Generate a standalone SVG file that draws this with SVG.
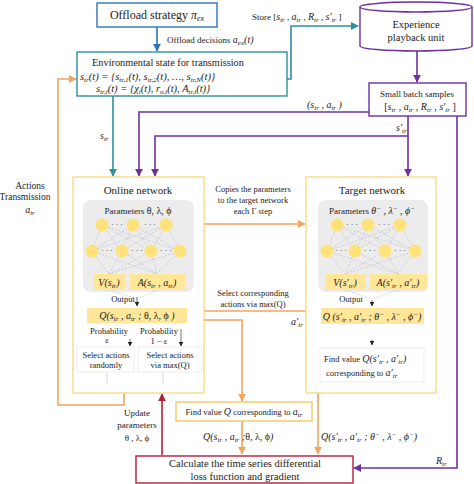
<svg xmlns="http://www.w3.org/2000/svg" width="474" height="484" viewBox="0 0 474 484" font-family="'Liberation Serif', 'Times New Roman', serif">
<style>
text{font-family:'Liberation Serif','Times New Roman',serif;fill:#222;}
.s{font-size:9px;}
.m{font-style:italic;}
.c{text-anchor:middle;}
.blue{fill:none;stroke:#2e75b6;stroke-width:1.6;}
.teal{fill:none;stroke:#2f8ea0;stroke-width:1.6;}
.pur{fill:none;stroke:#7030a0;stroke-width:1.6;}
.org{fill:none;stroke:#f4a460;stroke-width:1.6;}
.red{fill:none;stroke:#b3203a;stroke-width:1.6;}
.ybox{fill:#fff;stroke:#f9dc84;stroke-width:1.4;}
.yfill{fill:#ffe699;}
.gray{fill:#ececec;}
.node{fill:#ffe27a;}
.dash{stroke:#b8b8c8;stroke-width:0.6;stroke-dasharray:2 1.5;fill:none;}
.thin{stroke:#555;stroke-width:0.8;fill:none;}
.faint{fill:#fff;stroke:#e8e8e8;stroke-width:0.8;}
</style>
<defs>
<marker id="ab" viewBox="0 0 10 10" refX="9" refY="5" markerWidth="5" markerHeight="5" orient="auto-start-reverse"><path d="M0,0 L10,5 L0,10 z" fill="#2e75b6"/></marker>
<marker id="at" viewBox="0 0 10 10" refX="9" refY="5" markerWidth="5" markerHeight="5" orient="auto-start-reverse"><path d="M0,0 L10,5 L0,10 z" fill="#2f8ea0"/></marker>
<marker id="ap" viewBox="0 0 10 10" refX="9" refY="5" markerWidth="5" markerHeight="5" orient="auto-start-reverse"><path d="M0,0 L10,5 L0,10 z" fill="#7030a0"/></marker>
<marker id="ao" viewBox="0 0 10 10" refX="9" refY="5" markerWidth="5" markerHeight="5" orient="auto-start-reverse"><path d="M0,0 L10,5 L0,10 z" fill="#f4a460"/></marker>
<marker id="ar" viewBox="0 0 10 10" refX="9" refY="5" markerWidth="5" markerHeight="5" orient="auto-start-reverse"><path d="M0,0 L10,5 L0,10 z" fill="#b3203a"/></marker>
<marker id="ak" viewBox="0 0 10 10" refX="9" refY="5" markerWidth="6" markerHeight="6" orient="auto-start-reverse"><path d="M0,0 L10,5 L0,10 z" fill="#222"/></marker>
</defs>
<rect width="474" height="484" fill="#fff"/>

<g id="connectors">
<line class="blue" x1="157" y1="27" x2="157" y2="51" marker-end="url(#ab)"/>
<polyline class="teal" points="287,79 291,79 291,26 358,26" marker-end="url(#at)"/>
<line class="teal" x1="113" y1="96" x2="113" y2="176" marker-end="url(#at)"/>
<line class="pur" x1="417" y1="51" x2="417" y2="82" marker-end="url(#ap)"/>
<polyline class="pur" points="369,112 139,112 139,176" marker-end="url(#ap)"/>
<polyline class="pur" points="408,116 408,136 155,136 155,176" marker-end="url(#ap)"/>
<line class="pur" x1="408" y1="136" x2="408" y2="176" marker-end="url(#ap)"/>
<polyline class="pur" points="457,116 457,468 354,468" marker-end="url(#ap)"/>
<polyline class="org" points="124,383 124,405 58,405 58,79 76,79" marker-end="url(#ao)"/>
<line class="org" x1="204" y1="224" x2="305" y2="224" marker-end="url(#ao)"/>
<line class="org" x1="187" y1="311" x2="320" y2="311" marker-end="url(#ao)"/>
<polyline class="org" points="187,320 242,320 242,401" marker-end="url(#ao)"/>
<line class="org" x1="242" y1="421" x2="242" y2="454" marker-end="url(#ao)"/>
<line class="org" x1="318" y1="393" x2="318" y2="454" marker-end="url(#ao)"/>
<line class="red" x1="162" y1="455" x2="162" y2="394" marker-end="url(#ar)"/>
</g>

<g id="offload">
<rect x="97" y="3" width="120" height="24" fill="#fff" stroke="#2e75b6" stroke-width="1.4"/>
<text x="157" y="19" class="c" font-size="12">Offload strategy <tspan class="m">π</tspan><tspan class="m" font-size="8" baseline-shift="-2">ex</tspan></text>
</g>
<text x="167" y="43" class="s">Offload decisions <tspan class="m" font-size="10">a</tspan><tspan class="m" font-size="7" baseline-shift="-2">ex</tspan><tspan class="m" font-size="10">(t)</tspan></text>

<g id="env">
<rect x="77" y="52" width="210" height="44" fill="#fff" stroke="#2f8ea0" stroke-width="1.4"/>
<text x="168" y="66" class="c" font-size="10.3">Environmental state for transmission</text>
<text x="80" y="80" class="m" font-size="10.5">s<tspan font-size="7" baseline-shift="-2">tr</tspan>(t) = {s<tspan font-size="7" baseline-shift="-2">tr,1</tspan>(t), s<tspan font-size="7" baseline-shift="-2">tr,2</tspan>(t), …, s<tspan font-size="7" baseline-shift="-2">tr,N</tspan>(t)}</text>
<text x="96" y="92" class="m" font-size="10.5">s<tspan font-size="7" baseline-shift="-2">tr,i</tspan>(t) = {χ<tspan font-size="7" baseline-shift="-2">i</tspan>(t), r<tspan font-size="7" baseline-shift="-2">o,i</tspan>(t), A<tspan font-size="7" baseline-shift="-2">tr,i</tspan>(t)}</text>
</g>
<text x="252" y="20" class="s">Store [<tspan class="m" font-size="10">s</tspan><tspan class="m" font-size="7" baseline-shift="-2">tr</tspan> , <tspan class="m" font-size="10">a</tspan><tspan class="m" font-size="7" baseline-shift="-2">tr</tspan> , <tspan class="m" font-size="10">R</tspan><tspan class="m" font-size="7" baseline-shift="-2">tr</tspan> , <tspan class="m" font-size="10">s′</tspan><tspan class="m" font-size="7" baseline-shift="-2">tr</tspan> ]</text>

<g id="experience">
<path d="M360,7 L360,46 A56,5 0 0 0 472,46 L472,7" fill="#fff" stroke="#7030a0" stroke-width="1.4"/>
<ellipse cx="416" cy="7" rx="56" ry="5" fill="#fff" stroke="#7030a0" stroke-width="1.4"/>
<text x="416" y="28" class="c" font-size="10.5">Experience</text>
<text x="416" y="41" class="c" font-size="10.5">playback unit</text>
</g>

<g id="batch">
<rect x="369" y="83" width="97" height="33" fill="#fff" stroke="#7030a0" stroke-width="1.4"/>
<text x="417" y="97" class="c" font-size="9">Small batch samples</text>
<text x="420" y="110" class="c" font-size="10">[<tspan class="m">s</tspan><tspan class="m" font-size="7" baseline-shift="-2">tr</tspan> , <tspan class="m">a</tspan><tspan class="m" font-size="7" baseline-shift="-2">tr</tspan> , <tspan class="m">R</tspan><tspan class="m" font-size="7" baseline-shift="-2">tr</tspan> , <tspan class="m">s′</tspan><tspan class="m" font-size="7" baseline-shift="-2">tr</tspan> ]</text>
</g>
<text x="307" y="108" font-size="10" class="m">(s<tspan font-size="7" baseline-shift="-2">tr</tspan> , a<tspan font-size="7" baseline-shift="-2">tr</tspan> )</text>
<text x="396" y="131" font-size="10" class="m">s′<tspan font-size="7" baseline-shift="-2">tr</tspan></text>
<text x="100" y="139" font-size="10" class="m">s<tspan font-size="7" baseline-shift="-2">tr</tspan></text>
<text x="436" y="464" font-size="10" class="m">R<tspan font-size="7" baseline-shift="-2">tr</tspan></text>

<text x="30" y="189" class="c" font-size="9.5">Actions</text>
<text x="25" y="200" class="c" font-size="9.5">Transmission</text>
<text x="30" y="213" class="c m" font-size="10">a<tspan font-size="7" baseline-shift="-2">tr</tspan></text>

<text x="253" y="192" class="c" font-size="8.5">Copies the parameters</text>
<text x="253" y="203" class="c" font-size="8.5">to the target network</text>
<text x="253" y="214" class="c" font-size="8.5">each Γ step</text>

<text x="253" y="296" class="c" font-size="8.5">Select corresponding</text>
<text x="253" y="307" class="c" font-size="8.5">actions via max(Q)</text>
<text x="291" y="325" font-size="10" class="m">a′<tspan font-size="7" baseline-shift="-2">tr</tspan></text>

<g id="online">
<rect class="ybox" x="73" y="177" width="131" height="216"/>
<text x="138" y="194" class="c" font-size="11">Online network</text>
<rect class="gray" x="83" y="200" width="111" height="92" rx="8"/>
<text x="138" y="214" class="c" font-size="9">Parameters <tspan font-size="10">θ, λ, ϕ</tspan></text>
<g class="dash">
<path d="M102,225 L92,251 M102,225 L122,251 M102,225 L151,251 M102,225 L180,251 M133,225 L92,251 M133,225 L122,251 M133,225 L151,251 M133,225 L180,251 M166,225 L92,251 M166,225 L122,251 M166,225 L151,251 M166,225 L180,251"/>
<path d="M92,251 L109,274 M92,251 L157,274 M122,251 L109,274 M122,251 L157,274 M151,251 L109,274 M151,251 L157,274 M180,251 L109,274 M180,251 L157,274"/>
<path d="M109,290 L137,299 M157,290 L137,299"/>
</g>
<circle class="node" cx="102" cy="225" r="6.5"/><circle class="node" cx="133" cy="225" r="6.5"/><circle class="node" cx="166" cy="225" r="6.5"/>
<circle class="node" cx="92" cy="251" r="6.5"/><circle class="node" cx="122" cy="251" r="6.5"/><circle class="node" cx="151" cy="251" r="6.5"/><circle class="node" cx="180" cy="251" r="6.5"/>
<text x="117" y="227" class="c" font-size="8">· · ·</text><text x="150" y="227" class="c" font-size="8">· · ·</text>
<text x="107" y="253" class="c" font-size="8">· · ·</text><text x="137" y="253" class="c" font-size="8">· · ·</text><text x="166" y="253" class="c" font-size="8">· · ·</text>
<rect class="yfill" x="93" y="274" width="32" height="16"/>
<rect class="yfill" x="130" y="274" width="55" height="16"/>
<text x="109" y="286" class="c m" font-size="10">V(s<tspan font-size="7" baseline-shift="-2">tr</tspan>)</text>
<text x="157" y="286" class="c m" font-size="10">A(s<tspan font-size="7" baseline-shift="-2">tr</tspan> , a<tspan font-size="7" baseline-shift="-2">tr</tspan>)</text>
<text x="123" y="302" class="c" font-size="8.5">Output</text>
<line class="thin" x1="137" y1="297" x2="137" y2="306" marker-end="url(#ak)"/>
<rect class="yfill" x="87" y="308" width="100" height="15"/>
<text x="137" y="319" class="c m" font-size="10">Q(s<tspan font-size="7" baseline-shift="-2">tr</tspan> , a<tspan font-size="7" baseline-shift="-2">tr</tspan> ; <tspan font-style="normal">θ, λ, ϕ</tspan> )</text>
<text x="109" y="334" class="c" font-size="8.5">Probability</text>
<text x="107" y="343" class="c" font-size="8.5">ε</text>
<text x="159" y="334" class="c" font-size="8.5">Probability</text>
<text x="159" y="344" class="c" font-size="8.5">1 − ε</text>
<line class="thin" x1="130" y1="339" x2="130" y2="346" marker-end="url(#ak)"/>
<line class="thin" x1="181" y1="329" x2="181" y2="346" marker-end="url(#ak)"/>
<rect class="faint" x="77" y="347" width="57" height="25"/>
<rect class="faint" x="138" y="347" width="64" height="25"/>
<text x="106" y="358" class="c" font-size="8.5">Select actions</text>
<text x="106" y="368" class="c" font-size="8.5">randomly</text>
<text x="170" y="358" class="c" font-size="8.5">Select actions</text>
<text x="170" y="368" class="c" font-size="8.5">via max(Q)</text>
<line x1="107" y1="373" x2="107" y2="383" stroke="#ccc" stroke-width="0.8"/>
<line x1="163" y1="373" x2="163" y2="383" stroke="#ccc" stroke-width="0.8"/>
</g>

<g id="target">
<rect class="ybox" x="306" y="177" width="130" height="216"/>
<text x="372" y="194" class="c" font-size="11">Target network</text>
<rect class="gray" x="318" y="200" width="110" height="92" rx="8"/>
<text x="372" y="214" class="c" font-size="9">Parameters <tspan class="m" font-size="10">θ<tspan font-size="7" baseline-shift="3">−</tspan> , λ<tspan font-size="7" baseline-shift="3">−</tspan> , ϕ<tspan font-size="7" baseline-shift="3">−</tspan></tspan></text>
<g class="dash">
<path d="M337,225 L327,251 M337,225 L355,251 M337,225 L385,251 M337,225 L415,251 M368,225 L327,251 M368,225 L355,251 M368,225 L385,251 M368,225 L415,251 M400,225 L327,251 M400,225 L355,251 M400,225 L385,251 M400,225 L415,251"/>
<path d="M327,251 L345,274 M327,251 L398,274 M355,251 L345,274 M355,251 L398,274 M385,251 L345,274 M385,251 L398,274 M415,251 L345,274 M415,251 L398,274"/>
<path d="M345,290 L372,299 M398,290 L372,299"/>
</g>
<circle class="node" cx="337" cy="225" r="6.5"/><circle class="node" cx="368" cy="225" r="6.5"/><circle class="node" cx="400" cy="225" r="6.5"/>
<circle class="node" cx="327" cy="251" r="6.5"/><circle class="node" cx="355" cy="251" r="6.5"/><circle class="node" cx="385" cy="251" r="6.5"/><circle class="node" cx="415" cy="251" r="6.5"/>
<text x="352" y="227" class="c" font-size="8">· · ·</text><text x="384" y="227" class="c" font-size="8">· · ·</text>
<text x="341" y="253" class="c" font-size="8">· · ·</text><text x="370" y="253" class="c" font-size="8">· · ·</text><text x="400" y="253" class="c" font-size="8">· · ·</text>
<rect class="yfill" x="325" y="274" width="40" height="16"/>
<rect class="yfill" x="370" y="274" width="57" height="16"/>
<text x="345" y="286" class="c m" font-size="10">V(s′<tspan font-size="7" baseline-shift="-2">tr</tspan>)</text>
<text x="398" y="286" class="c m" font-size="10">A(s′<tspan font-size="7" baseline-shift="-2">tr</tspan> , a′<tspan font-size="7" baseline-shift="-2">tr</tspan>)</text>
<text x="351" y="302" class="c" font-size="8.5">Output</text>
<line class="thin" x1="372" y1="300" x2="372" y2="306" marker-end="url(#ak)"/>
<rect class="yfill" x="321" y="308" width="103" height="16"/>
<text x="372" y="320" class="c m" font-size="10">Q (s′<tspan font-size="7" baseline-shift="-2">tr</tspan> , a′<tspan font-size="7" baseline-shift="-2">tr</tspan> ; θ<tspan font-size="7" baseline-shift="3">−</tspan> , λ<tspan font-size="7" baseline-shift="3">−</tspan> , ϕ<tspan font-size="7" baseline-shift="3">−</tspan>)</text>
<line class="thin" x1="372" y1="340" x2="372" y2="345" marker-end="url(#ak)"/>
<rect class="faint" x="320" y="348" width="104" height="34"/>
<text x="324" y="362" font-size="8.5">Find value <tspan class="m" font-size="10">Q(s′<tspan font-size="7" baseline-shift="-2">tr</tspan> , a′<tspan font-size="7" baseline-shift="-2">tr</tspan>)</tspan></text>
<text x="326" y="376" font-size="8.5">corresponding to <tspan class="m" font-size="10">a′<tspan font-size="7" baseline-shift="-2">tr</tspan></tspan></text>
</g>

<text x="137" y="416" class="c" font-size="9">Update</text>
<text x="137" y="428" class="c" font-size="9">parameters</text>
<text x="137" y="441" class="c" font-size="9">θ , λ, ϕ</text>

<g id="findq">
<rect x="176" y="402" width="136" height="19" fill="#fff" stroke="#f2c95c" stroke-width="1.4"/>
<text x="244" y="415" class="c" font-size="8.5">Find value <tspan class="m" font-size="10">Q</tspan> corresponding to <tspan class="m" font-size="10">a</tspan><tspan class="m" font-size="7" baseline-shift="-2">tr</tspan></text>
</g>
<text x="203" y="440" font-size="10" class="m">Q(s<tspan font-size="7" baseline-shift="-2">tr</tspan> , a<tspan font-size="7" baseline-shift="-2">tr</tspan> ;<tspan font-style="normal">θ, λ, ϕ</tspan>)</text>
<text x="321" y="440" font-size="10" class="m">Q(s′<tspan font-size="7" baseline-shift="-2">tr</tspan> , a′<tspan font-size="7" baseline-shift="-2">tr</tspan> ; θ<tspan font-size="7" baseline-shift="3">−</tspan> , λ<tspan font-size="7" baseline-shift="3">−</tspan> , ϕ<tspan font-size="7" baseline-shift="3">−</tspan>)</text>

<g id="calc">
<rect x="136" y="456" width="217" height="27" fill="#fff" stroke="#b3203a" stroke-width="1.4"/>
<text x="245" y="467" class="c" font-size="10.5">Calculate the time series differential</text>
<text x="245" y="480" class="c" font-size="10.5">loss function and gradient</text>
</g>
</svg>
